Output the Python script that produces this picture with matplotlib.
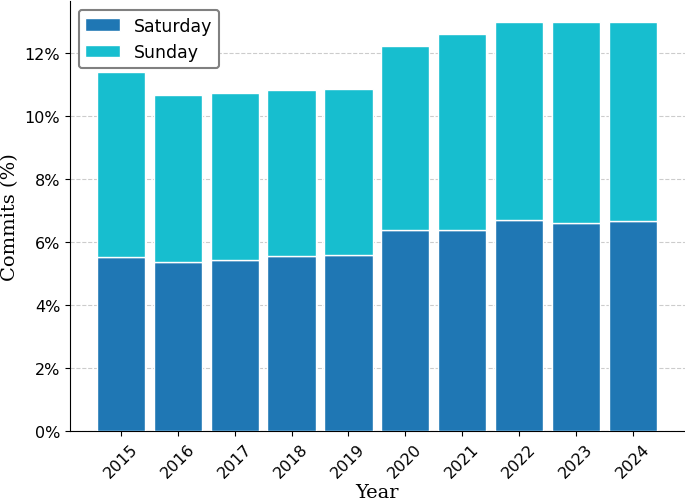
import matplotlib
matplotlib.use("Agg")
import matplotlib.pyplot as plt
from matplotlib.ticker import FuncFormatter
import numpy as np

years = ["2015", "2016", "2017", "2018", "2019", "2020", "2021", "2022", "2023", "2024"]
saturday = [5.53, 5.37, 5.44, 5.57, 5.60, 6.37, 6.38, 6.70, 6.61, 6.67]
sunday = [5.86, 5.30, 5.30, 5.27, 5.27, 5.84, 6.22, 6.27, 6.36, 6.31]

fig = plt.figure(figsize=(6.85, 5.02), dpi=100)
ax = fig.add_axes([0.102, 0.139, 0.898, 0.857])

x = np.arange(len(years))
ax.bar(x, saturday, width=0.85, color="#1f77b4", edgecolor="white", linewidth=1, label="Saturday", zorder=3)
ax.bar(x, sunday, width=0.85, bottom=saturday, color="#17becf", edgecolor="white", linewidth=1, label="Sunday", zorder=3)

ax.set_xlim(-0.9, 9.92)
ax.set_ylim(0, 13.65)
ax.set_yticks([0, 2, 4, 6, 8, 10, 12])
ax.yaxis.set_major_formatter(FuncFormatter(lambda v, p: f"{v:.0f}%"))
ax.set_xticks(x)
ax.set_xticklabels(years, rotation=45, fontsize=11.5)
ax.tick_params(axis="y", labelsize=11.5)

ax.grid(axis="y", linestyle="--", color="#cccccc", linewidth=0.8, zorder=0)
ax.spines["top"].set_visible(False)
ax.spines["right"].set_visible(False)

ax.set_xlabel("Year", family="DejaVu Serif", fontsize=14, labelpad=2)
ax.set_ylabel("Commits (%)", family="DejaVu Serif", fontsize=14)

leg = ax.legend(loc="upper left", fontsize=12.5, framealpha=1, edgecolor="#808080", fancybox=True)
leg.get_frame().set_linewidth(1.5)

fig.savefig("out.png", dpi=100)
